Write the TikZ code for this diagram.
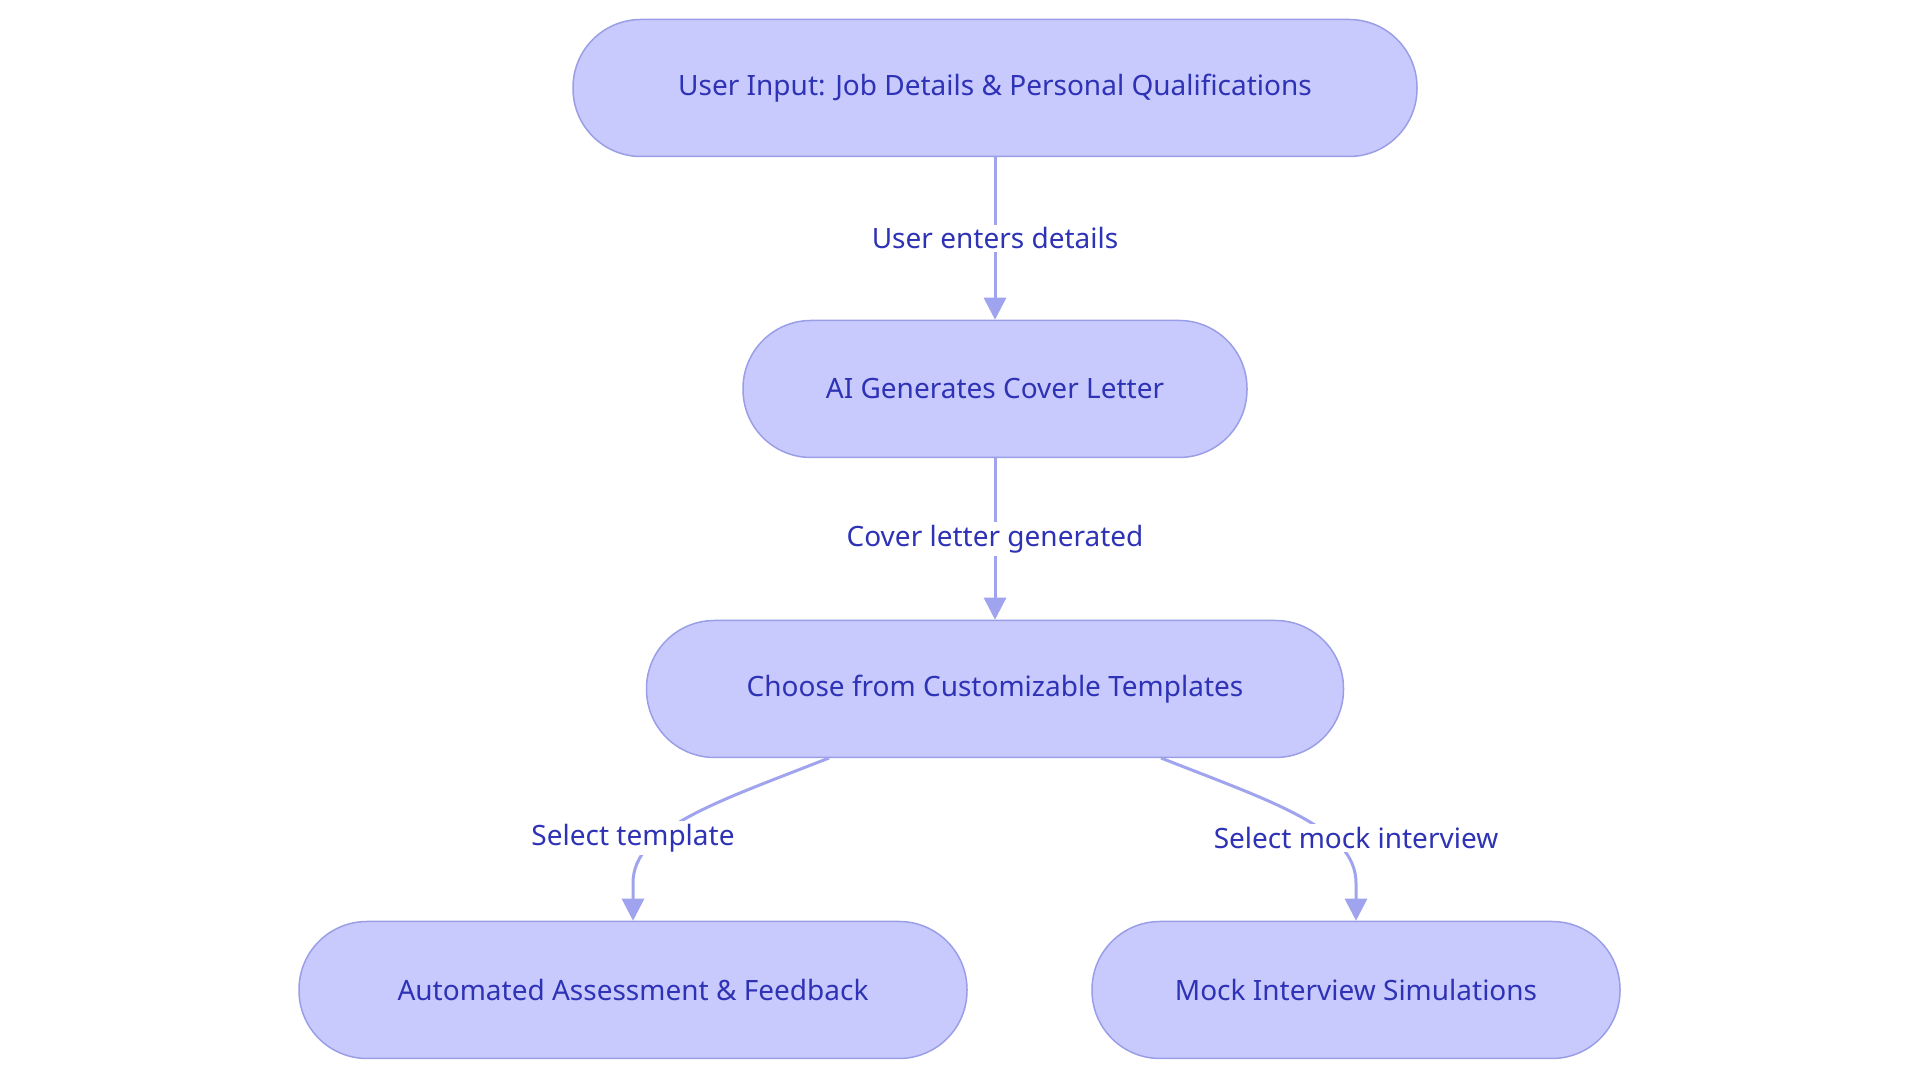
\documentclass[tikz,border=0pt]{standalone}
\usepackage{fontspec}
\setmainfont{Noto Sans}
\usetikzlibrary{arrows.meta}
\definecolor{nfill}{HTML}{C8CAFE}
\definecolor{nline}{HTML}{9A9EE6}
\definecolor{ntext}{HTML}{2E32B4}
\definecolor{aline}{HTML}{A0A4EE}
\begin{document}
\begin{tikzpicture}[x=1pt,y=1pt,
  pill/.style={draw=nline,line width=1.5pt,fill=nfill,rounded corners=68pt,minimum height=137pt,text=ntext,font=\fontsize{28}{32}\selectfont,inner sep=0pt},
  elab/.style={fill=white,text=ntext,font=\fontsize{28}{32}\selectfont,inner sep=3pt},
  conn/.style={draw=aline,line width=3pt,-{Triangle[length=22pt,width=22pt]}}]
\useasboundingbox (0,0) rectangle (1920,1083);
\node[pill,minimum width=844pt] (n1) at (995,995) {User Input: Job Details \& Personal Qualifications};
\node[pill,minimum width=504pt] (n2) at (995,694) {AI Generates Cover Letter};
\node[pill,minimum width=697pt] (n3) at (995,394) {Choose from Customizable Templates};
\node[pill,minimum width=668pt] (n4) at (633,93) {Automated Assessment \& Feedback};
\node[pill,minimum width=528pt] (n5) at (1356,93) {Mock Interview Simulations};
\coordinate (s4) at (829,325);
\coordinate (s5) at (1161,325);
\draw[conn] (n1) -- (n2) node[elab,midway] (l1) {User enters details};
\draw[conn] (n2) -- (n3) node[elab,midway] (l2) {Cover letter generated};
\draw[conn] (s4) .. controls (720,282) and (633,255) .. (633,200) -- (n4.north);
\draw[conn] (s5) .. controls (1270,282) and (1356,255) .. (1356,200) -- (n5.north);
\node[elab] (l3) at (633,245) {Select template};
\node[elab] (l4) at (1356,245) {Select mock interview};
\end{tikzpicture}
\end{document}
